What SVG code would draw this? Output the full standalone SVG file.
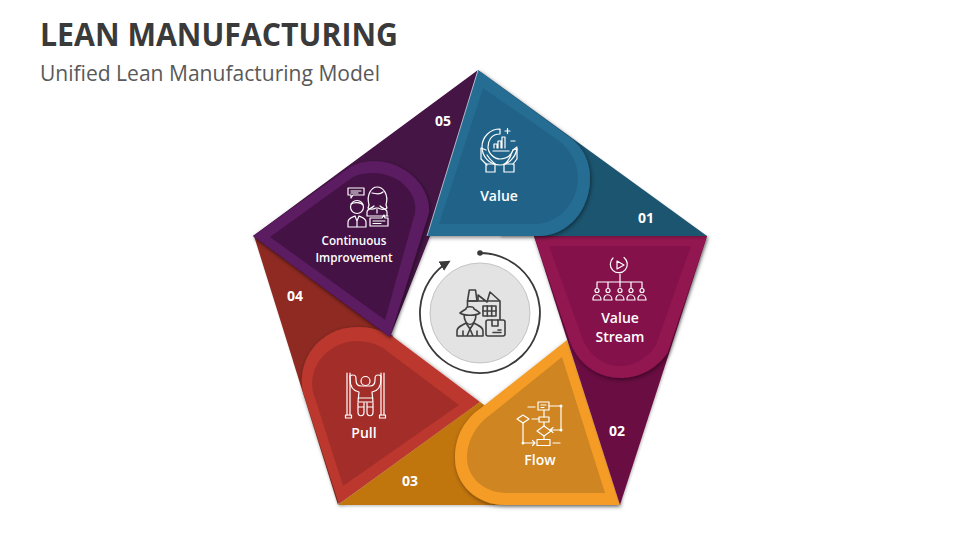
<svg xmlns="http://www.w3.org/2000/svg" width="960" height="540" viewBox="0 0 960 540">
<style>
text{font-family:"Open Sans","Liberation Sans",sans-serif}
.lbl{fill:#fff;font-size:14px;font-weight:600;text-anchor:middle}
.lbl2{fill:#fff;font-size:11.700px;font-weight:600;text-anchor:middle}
.num{fill:#fff;font-size:14px;font-weight:700;text-anchor:middle}
.ic{fill:none;stroke:#fff;stroke-width:1.2;stroke-linejoin:round;stroke-linecap:round}
.ic2{fill:none;stroke:#404040;stroke-width:1.600;stroke-linejoin:round;stroke-linecap:round}
.dot{fill:#fff;stroke:none}
.dk{filter:url(#soft)}
.lt{filter:url(#sh)}
</style>
<defs>
<filter id="sh" x="-20%" y="-20%" width="140%" height="140%"><feDropShadow dx="1" dy="1.500" stdDeviation="2" flood-color="#000" flood-opacity=".5"/></filter>
<filter id="soft" x="-10%" y="-10%" width="120%" height="120%"><feDropShadow dx="1" dy="1.500" stdDeviation="1" flood-color="#000" flood-opacity=".22"/></filter>
<marker id="ah" markerWidth="7" markerHeight="7" refX="5" refY="3" orient="auto"><path d="M0 0L6 3L0 6z" fill="#3a3a3a"/></marker>
</defs>
<text x="40" y="46" font-size="33" font-weight="700" fill="#3a3a3a" textLength="358" lengthAdjust="spacingAndGlyphs">LEAN MANUFACTURING</text>
<text x="40" y="81" font-size="21" fill="#595959" textLength="340" lengthAdjust="spacingAndGlyphs">Unified Lean Manufacturing Model</text>

<g id="node-04">
<path class="dk" d="M254 236L393 336L338 505z" fill="#8e2c22"/>
<path class="lt" d="M392 336L480 402L339 504L303 392C296 360 320 327 357 327C370 327 382 330 392 336z" fill="#bc392f"/>
<path d="M383 348L459 405L343 486L313 392C307 365 330 341 357 341C367 341 376 344 383 348z" fill="#a32e29"/>
<text class="num" x="295" y="301">04</text>
<g class="ic"><path d="M347 373V415M350 373V415M381 373V415M384 373V415"/><rect x="345.500" y="415" width="6" height="3"/><rect x="379.500" y="415" width="6" height="3"/>
<circle cx="365.500" cy="381" r="4.500"/><path d="M353 375C349 375 350 377 350 379C350 386 353 391 359 392L358 402H373L372 392C378 391 381 386 381 379C381 377 382 375 378 375C375 375 375 377 375 380C375 384 373 386 370 386H361C358 386 356 384 356 380C356 377 356 375 353 375zM358 398H373M358 403V412C358 417 364 417 364 412V403M367 403V412C367 417 373 417 373 412V403M358 407H364M367 407H373"/></g>
<text class="lbl" x="364" y="438">Pull</text>
</g>

<g id="node-03">
<path class="dk" d="M480 402L620 505H338z" fill="#c1750a"/>
<path class="lt" d="M567 340L620 505H505C476 505 455 484 455 458C455 435 466 418 481 408z" fill="#f49c27"/>
<path d="M562 357L605 493H507C484 493 467 477 467 458C467 440 477 424 490 415z" fill="#ce8522"/>
<text class="num" x="410" y="486">03</text>
<g class="ic"><rect x="538" y="402" width="11" height="8"/><path d="M541 405H546M541 407.500H544M528 407H535M549 406H561V430H550M553 427.500L550 430L553 432.500"/>
<rect x="539" y="417" width="10" height="5"/><path d="M532 419H539M544 410V417M544 422V426M544 436V439"/>
<path d="M523 415L529 419L523 423L517 419zM544 426L551 431L544 436L537 431z"/><path d="M523 423V443H535M532.500 440.500L535 443L532.500 445.500"/>
<rect x="537" y="439.500" width="13" height="6"/><path d="M553 443H560"/></g>
<circle class="dot" cx="561" cy="406" r="1.500"/><circle class="dot" cx="561" cy="430" r="1.500"/><circle class="dot" cx="523" cy="443" r="1.500"/>
<text class="lbl" x="540" y="465">Flow</text>
</g>

<g id="node-02">
<path class="dk" d="M534 236H707L620 505z" fill="#6b0f42"/>
<path class="lt" d="M534 236H707L668 352C658 368 640 378 620 378C598 378 578 364 570 342z" fill="#921350"/>
<path d="M549 246H691L656 345C648 358 634 366 620 366C604 366 590 356 583 340z" fill="#85114b"/>
<text class="num" x="617" y="436">02</text>
<g class="ic"><path d="M613 258A8.500 8.500 0 1 0 624 257.500"/><path d="M617 261V269L624 265z"/><path d="M620 274V287M597 288V282H642V288M608 282V288M631 282V288"/>
<circle cx="597" cy="290.500" r="2"/><circle cx="608" cy="290.500" r="2"/><circle cx="620" cy="290.500" r="2"/><circle cx="631" cy="290.500" r="2"/><circle cx="642" cy="290.500" r="2"/>
<path d="M593 300C592 293 601 293 601 300zM604 300C603 293 612 293 612 300zM616 300C615 293 624 293 624 300zM627 300C626 293 635 293 635 300zM638 300C637 293 646 293 646 300z"/></g>
<text class="lbl" x="620" y="323">Value</text>
<text class="lbl" x="620" y="342">Stream</text>
</g>

<g id="node-05">
<path class="dk" d="M478 70L253 236L390 337L430 236z" fill="#441245"/>
<path class="lt" d="M253 236L350 167C358 163 365 161 373 161C405 161 431 186 429 213L390 337z" fill="#5b1a62"/>
<path d="M270 237L353 177C359 174 366 173 373 173C398 173 418 192 415 213L385 320z" fill="#441245"/>
<text class="num" x="443" y="126">05</text>
<g class="ic"><path d="M348 188H364V195H353L351 198V195H348z"/><path d="M351 191H361M351 193H358"/>
<path d="M369 205C366 194 372 187 377 187C383 187 389 194 386 205L387 208C384 210 380 209 378 208H376C374 209 371 210 368 208zM372 193C376 194 381 194 383 192"/><path d="M367 216V212C367 209 372 208 374 206M387 216V212C387 209 382 208 380 206M367 216H388M377 209V213"/>
<circle cx="357" cy="207" r="6.500"/><path d="M351 204C354 202 361 202 363 205M348 227V222C348 218 353 217 355 216M366 227V222C366 218 361 217 359 216M348 227H366M355 216L357 221L359 216M357 221V227"/>
<path d="M370 218H382L384 215L385 218H388V226H370z"/><path d="M373 221H385M373 223.500H381"/></g>
<text class="lbl2" x="354" y="245">Continuous</text>
<text class="lbl2" x="354" y="262">Improvement</text>
</g>

<g id="node-01">
<path class="dk" d="M478 70L707 236H500z" fill="#1f5470"/>
<path class="lt" d="M478 70L572 139C584 149 590 163 590 178C590 210 568 236 538 236H427z" fill="#266d94"/>
<path d="M483 88L558 140C571 150 578 164 578 178C578 203 558 224 535 224H439z" fill="#216388"/>
<path d="M478 70L427 236" fill="none" stroke="#e8e4ea" stroke-width=".7"/>
<text class="num" x="646" y="223">01</text>
<g class="ic"><path d="M500 129V134C491 134 488 141 488 147C488 153 494 159 500 159C506 159 511 156 513 150L517 149C515 158 508 165 500 165C489 165 482 156 482 147C482 137 490 129 500 129z"/>
<path d="M494 148V144H497V148M498 148V141H501V148M502 148V137H505V148M493 151H509M505 131H510M507.500 128.500V133.500M511 141H515"/>
<path d="M481 148V159L487 165M486 150L481 148M487 155C490 160 494 163 495 164M517 148V159L513 164M513 150L517 147M511 155C509 160 506 163 505 164"/>
<rect x="486" y="164" width="9" height="8"/><rect x="504" y="164" width="10" height="8"/></g>
<text class="lbl" x="499" y="201">Value</text>
</g>

<g id="node-center">
<circle cx="480" cy="313" r="50" fill="#e3e3e3" stroke="#c4c4c4" stroke-width="1"/>
<g class="ic2"><path d="M469.300 290H475.500L477 301H467.500z"/><path d="M467.500 301V312M477 301H478V295L487 302L490 292L500 301V320M467.500 301H500"/>
<rect x="483" y="306" width="13" height="10"/><path d="M487.300 306V316M491.700 306V316M483 311H496"/>
<path d="M464 314C464 328 476 328 476 314" fill="#e3e3e3"/>
<path d="M460 313C464 310 466 309 466 309C466 306 474 306 474 309C476 310 478 311 480 313C476 316 464 316 460 313z" fill="#e3e3e3"/>
<path d="M457 336V331C457 327 461 326 466 323L470 329L474 323C479 326 483 327 483 331V336zM470 329L467 336M470 329L473 336M463 331V336M477 331V336" fill="#e3e3e3"/>
<rect x="486" y="320" width="19" height="16" rx="2" fill="#e3e3e3"/><path d="M492 320V326H498V320M498 330H501M493 332.500H501"/></g>
</g>

<g id="connectors">
<circle cx="480" cy="253" r="2.800" fill="#3a3a3a"/>
<path d="M480 253A60 60 0 1 1 449 261.600" fill="none" stroke="#3a3a3a" stroke-width="1.800" marker-end="url(#ah)"/>
</g>
</svg>
